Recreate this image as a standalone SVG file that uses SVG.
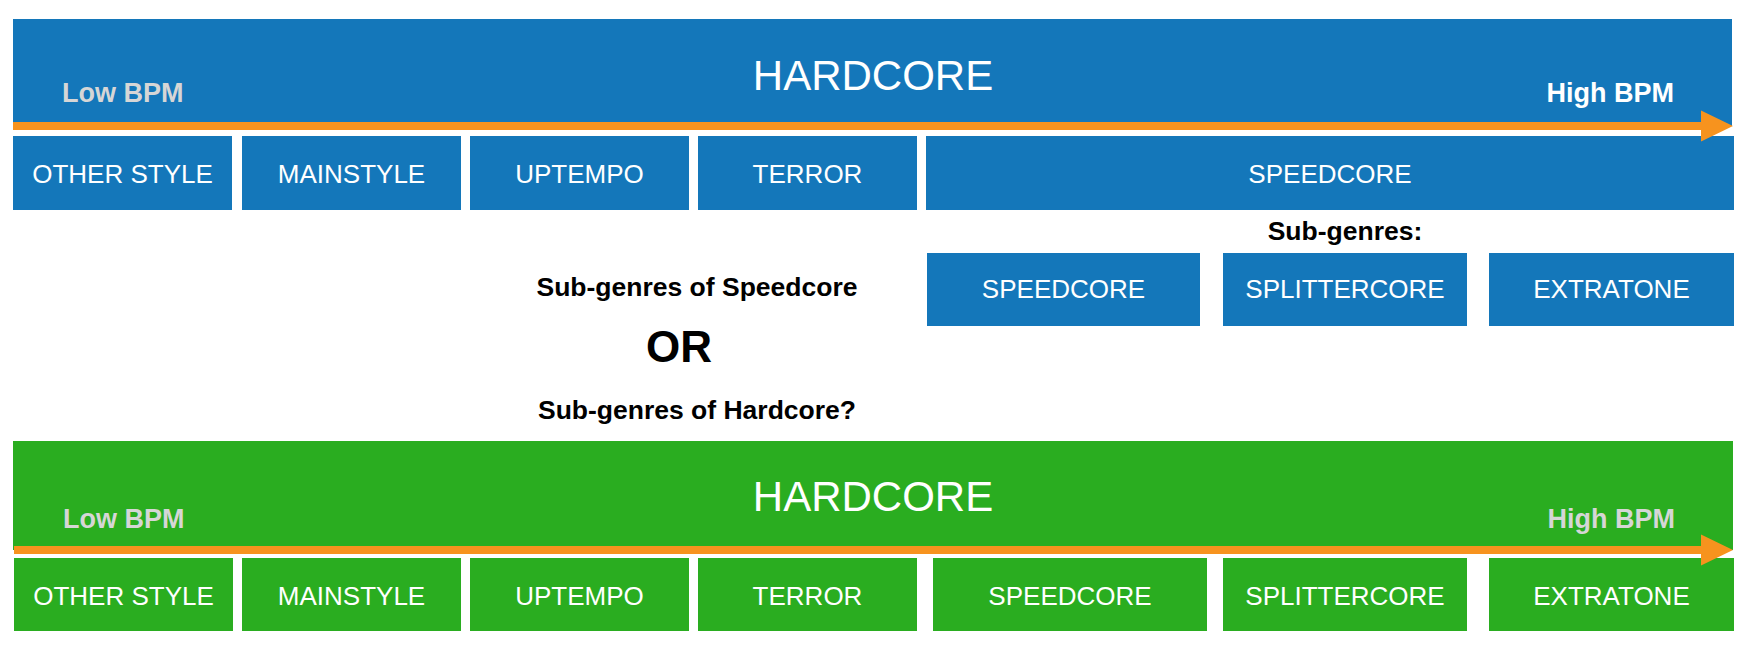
<svg xmlns="http://www.w3.org/2000/svg" width="1748" height="648" viewBox="0 0 1748 648">
<style>
.blue{fill:#1477ba}
.green{fill:#2aad20}
.t{font-family:"Liberation Sans",Arial,sans-serif;fill:#fff;text-anchor:middle}
.lbl{font-size:26px}
.title{font-size:42px}
.bpm{font-family:"Liberation Sans",Arial,sans-serif;font-size:27px;font-weight:bold}
.q{font-family:"Liberation Sans",Arial,sans-serif;font-weight:bold;fill:#000;text-anchor:middle}
</style>
<defs>
<marker id="ah" markerUnits="userSpaceOnUse" markerWidth="32" markerHeight="32" refX="0" refY="15.5" orient="auto" viewBox="0 0 32 31">
<path d="M0,0 L32,15.5 L0,31 Z" fill="#f7931e"/>
</marker>
</defs>
<rect width="1748" height="648" fill="#fff"/>

<g id="hardcore-top">
<rect class="blue" x="13" y="19" width="1719" height="107"/>
<text class="t title" x="873" y="89.5">HARDCORE</text>
<text class="bpm" x="62" y="102" fill="#d6d6d6">Low BPM</text>
<text class="bpm" x="1674" y="102" fill="#fff" text-anchor="end">High BPM</text>
</g>
<g id="top-other-style"><rect class="blue" x="13" y="136" width="219" height="74"/><text class="t lbl" x="122.5" y="182.5">OTHER STYLE</text></g>
<g id="top-mainstyle"><rect class="blue" x="242" y="136" width="219" height="74"/><text class="t lbl" x="351.5" y="182.5">MAINSTYLE</text></g>
<g id="top-uptempo"><rect class="blue" x="470" y="136" width="219" height="74"/><text class="t lbl" x="579.5" y="182.5">UPTEMPO</text></g>
<g id="top-terror"><rect class="blue" x="698" y="136" width="219" height="74"/><text class="t lbl" x="807.5" y="182.5">TERROR</text></g>
<g id="top-speedcore"><rect class="blue" x="926" y="136" width="808" height="74"/><text class="t lbl" x="1330" y="182.5">SPEEDCORE</text></g>

<g id="subgenres-label"><text class="q" x="1345" y="240" font-size="26.5">Sub-genres:</text></g>
<g id="sub-speedcore"><rect class="blue" x="927" y="253" width="273" height="73"/><text class="t lbl" x="1063.5" y="298">SPEEDCORE</text></g>
<g id="sub-splittercore"><rect class="blue" x="1223" y="253" width="244" height="73"/><text class="t lbl" x="1345" y="298">SPLITTERCORE</text></g>
<g id="sub-extratone"><rect class="blue" x="1489" y="253" width="245" height="73"/><text class="t lbl" x="1611.5" y="298">EXTRATONE</text></g>

<g id="question">
<text class="q" x="697" y="296" font-size="26.5">Sub-genres of Speedcore</text>
<text class="q" x="679" y="362" font-size="44">OR</text>
<text class="q" x="697" y="418.5" font-size="26.5">Sub-genres of Hardcore?</text>
</g>

<g id="hardcore-bottom">
<rect class="green" x="13" y="441" width="1720" height="109"/>
<text class="t title" x="873" y="511">HARDCORE</text>
<text class="bpm" x="63" y="528" fill="#d6d6d6">Low BPM</text>
<text class="bpm" x="1675" y="528" fill="#d6d6d6" text-anchor="end">High BPM</text>
</g>
<g id="bot-other-style"><rect class="green" x="14" y="558" width="219" height="73"/><text class="t lbl" x="123.5" y="604.5">OTHER STYLE</text></g>
<g id="bot-mainstyle"><rect class="green" x="242" y="558" width="219" height="73"/><text class="t lbl" x="351.5" y="604.5">MAINSTYLE</text></g>
<g id="bot-uptempo"><rect class="green" x="470" y="558" width="219" height="73"/><text class="t lbl" x="579.5" y="604.5">UPTEMPO</text></g>
<g id="bot-terror"><rect class="green" x="698" y="558" width="219" height="73"/><text class="t lbl" x="807.5" y="604.5">TERROR</text></g>
<g id="bot-speedcore"><rect class="green" x="933" y="558" width="274" height="73"/><text class="t lbl" x="1070" y="604.5">SPEEDCORE</text></g>
<g id="bot-splittercore"><rect class="green" x="1223" y="558" width="244" height="73"/><text class="t lbl" x="1345" y="604.5">SPLITTERCORE</text></g>
<g id="bot-extratone"><rect class="green" x="1489" y="558" width="245" height="73"/><text class="t lbl" x="1611.5" y="604.5">EXTRATONE</text></g>

<g id="connectors" stroke="#f7931e" stroke-width="8" fill="none">
<line x1="13" y1="126" x2="1701" y2="126" marker-end="url(#ah)"/>
<line x1="14" y1="550" x2="1701" y2="550" marker-end="url(#ah)"/>
</g>
</svg>
